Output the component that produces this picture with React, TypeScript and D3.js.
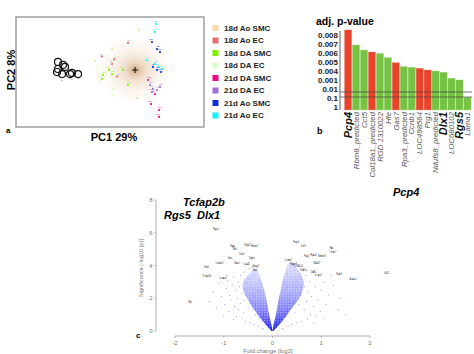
import React from "react";
import * as d3 from "d3";

const W = 474;
const H = 354;

// ---- panel a: PCA ----
const groups = ["18d Ao SMC", "18d Ao EC", "18d DA SMC", "18d DA EC", "21d DA SMC", "21d DA EC", "21d Ao SMC", "21d Ao EC"];
const groupColors = ["#f6dca4", "#e46f6f", "#80f000", "#ddfccc", "#f0088c", "#a070d8", "#1030d8", "#18f0f8"];
// [group index, PC1, PC2]
const pcaPoints = [
  [0, 18.5, 26.7], [0, 1.3, 14.6], [0, 16, 6.4], [0, 17.2, -16.5], [0, -9.6, 7],
  [1, 11.5, 18.5], [1, -5.1, 9.9], [1, 2.6, 8], [1, 1.3, 5.1], [1, 4.5, -2.9],
  [2, -0.6, 1.3], [2, 1.3, -1.3], [2, 8.3, 1.3], [2, -4.5, -1.9], [2, -5.1, -4.5], [2, 11.5, -8.3],
  [3, 1.9, -10.8], [3, 1.3, -15], [3, -8.3, 1.3], [3, -6.4, -6.4],
  [4, 31.3, -28.6], [4, 31.3, -24.2], [4, 26.2, -20.4], [4, 24.3, -5.1], [4, 28.7, -14],
  [5, 25.5, -8.3], [5, 27.4, -10.8], [5, 30, -11.5], [5, 26.8, -12.7], [5, 31.9, -9.5],
  [6, 26.8, 19.1], [6, 30, 14.6], [6, 31.9, 12.7], [6, 30, 1.3], [6, 32.6, 0], [6, 27.4, 3.2],
  [7, 29.4, 30.5], [7, 28.7, 25.5], [7, 30.6, 3.2], [7, 28.7, 5.1], [7, 33.2, 1.9], [7, 23.6, 7.6],
];
const refPoints = [
  [-33.2, 6.4], [-30, 4.5], [-28.7, 3.2], [-33.8, 0], [-30.6, -1.3], [-25.5, -1.3], [-24.3, -0.6], [-20.4, -1.3], [-33.2, 1.9],
];
const centroid = [16, 1.3];

// ---- panel b: adj. p-value bars ----
const genes = ["Pcp4", "Rbm8_predicted", "Cct5", "Col18a1_predicted", "RGD 1310022", "Hfe", "Gas7", "Rpa3_predicted", "Ccnb1", "LOC498564", "Prg1", "Ndufs8_predicted", "Dlx1", "LOC680102", "Rgs5", "Lama1"];
const geneValues = [8.56, 6.89, 6.33, 6.11, 5.94, 5.48, 4.92, 4.48, 4.41, 4.3, 4.11, 4.0, 3.86, 3.19, 3.0, 1.08];
const geneUp = [true, false, false, true, false, false, true, false, false, true, true, false, false, false, false, false];
const boldGenes = ["Pcp4", "Dlx1", "Rgs5"];
const pTickLabels = ["1", "0.1", "0.01", "0.001", "0.004", "0.005", "0.006", "0.007", "0.008"];
const thresholds = [1.67, 1.11];

// ---- panel c: volcano ----
const volcanoTicksX = [-2, -1, 0, 1, 2];
const volcanoTicksY = [0, 2, 4, 6, 8];
// arm envelopes: [significance, outer fold change, inner fold change]
const leftArm = [[0, -0.02, 0], [0.5, -0.17, -0.03], [1, -0.3, -0.07], [1.5, -0.42, -0.1], [2, -0.52, -0.13], [2.5, -0.6, -0.17], [3, -0.6, -0.22], [3.5, -0.48, -0.28], [3.8, -0.38, -0.33]];
const rightArm = [[0, 0.02, 0], [0.5, 0.17, 0.03], [1, 0.3, 0.07], [1.5, 0.42, 0.1], [2, 0.55, 0.13], [2.5, 0.62, 0.17], [3, 0.64, 0.2], [3.5, 0.58, 0.25], [4, 0.45, 0.3], [4.2, 0.38, 0.34]];
const scatter = [
  [-1.22, 2.4], [-1.1, 2.9], [-1.05, 2.1], [-0.98, 1.6], [-0.95, 2.6], [-0.92, 3.1], [-0.9, 1.2], [-0.88, 2.2], [-0.85, 1.9], [-0.83, 2.8],
  [-0.8, 3.3], [-0.78, 1.5], [-0.76, 2.5], [-0.74, 0.9], [-0.72, 2.0], [-0.7, 3.0], [-0.7, 1.3], [-0.68, 2.7], [-0.66, 1.7], [-0.65, 3.4],
  [-0.63, 0.8], [-0.62, 2.3], [-0.6, 1.1], [-0.58, 3.6], [-0.57, 1.9], [-0.55, 0.6], [-0.53, 2.9], [-0.5, 1.4], [-0.48, 3.8], [-0.46, 0.5],
  [-0.44, 3.2], [-0.42, 3.9], [-0.4, 2.6], [-0.38, 0.4], [-0.37, 3.5], [-0.35, 1.0], [-0.33, 3.7], [-0.3, 0.3], [-0.28, 3.1], [-0.25, 2.4],
  [-0.22, 2.9], [-0.2, 0.15], [-1.3, 1.8], [-1.15, 1.4], [-1.0, 0.9], [-0.8, 0.7], [-0.95, 3.4], [-1.05, 3.0],
  [1.25, 2.8], [1.15, 2.2], [1.1, 1.6], [1.05, 3.0], [1.0, 2.5], [0.98, 1.2], [0.95, 3.3], [0.93, 1.9], [0.9, 0.9], [0.88, 2.7],
  [0.85, 1.5], [0.83, 3.6], [0.8, 2.1], [0.78, 1.0], [0.76, 3.0], [0.74, 2.4], [0.72, 0.7], [0.7, 1.8], [0.68, 3.4], [0.66, 2.7],
  [0.65, 1.3], [0.63, 3.8], [0.6, 0.6], [0.58, 2.2], [0.56, 3.5], [0.54, 1.6], [0.52, 4.0], [0.5, 0.5], [0.48, 3.3], [0.46, 1.1],
  [0.44, 4.1], [0.42, 2.9], [0.4, 0.4], [0.38, 3.9], [0.35, 4.3], [0.32, 0.3], [0.3, 3.5], [0.27, 2.6], [0.24, 3.0], [0.2, 0.15],
  [1.35, 1.3], [1.4, 2.0], [1.2, 3.4], [1.05, 0.8], [0.85, 0.5], [1.5, 1.0],
  [-0.55, 2.2], [-0.5, 2.6], [-0.45, 1.7], [-0.4, 1.3], [-0.35, 1.6], [-0.3, 1.1], [-0.28, 0.8], [-0.22, 0.6], [-0.45, 2.9], [-0.5, 3.2],
  [-0.4, 3.4], [-0.58, 2.6], [-0.36, 2.1], [-0.3, 2.5], [-0.26, 2.0], [-0.18, 1.1],
  [0.55, 2.3], [0.5, 2.7], [0.45, 1.8], [0.4, 1.4], [0.35, 1.7], [0.3, 1.2], [0.28, 0.9], [0.22, 0.6], [0.5, 3.1], [0.55, 3.3],
  [0.45, 3.7], [0.6, 2.7], [0.36, 2.2], [0.3, 2.7], [0.26, 2.1], [0.18, 1.2], [0.4, 4.0],
];
const labelled = [
  ["Rgs5", -1.16, 6.2], ["Mgp", -0.82, 5.18], ["Eln", -0.77, 5.0], ["Myh11", -0.5, 5.24], ["Acta2", -0.36, 5.2],
  ["Cnn1", -0.63, 4.7], ["Tagln", -0.43, 4.47], ["Des", -0.87, 4.47], ["Lmod1", -1.09, 4.16], ["Dlx1", -1.35, 3.92],
  ["Smtn", -0.73, 4.12], ["Cald1", -0.53, 4.06], ["Actg2", -0.34, 3.96], ["Vim", -0.36, 3.72], ["Tcfap2b", -1.35, 3.35],
  ["Lama1", -1.01, 3.21], ["Pln", -1.69, 1.73], ["Pcp4", 0.48, 5.45], ["Cct5", 0.63, 5.2], ["Hfe", 1.21, 5.04],
  ["Gas7", 1.25, 4.84], ["Ccnb1", 0.32, 4.33], ["Prg1", 0.7, 4.57], ["Rpa3", 0.84, 4.63], ["Ndufs8", 1.01, 4.59],
  ["Rbm8", 0.43, 4.08], ["Col18a1", 0.53, 3.96], ["Top2a", 0.63, 3.72], ["Mki67", 0.91, 4.12], ["Cdk1", 0.84, 3.62],
  ["Ccna2", 0.94, 3.41], ["Bub1", 1.37, 3.48], ["Aurka", 1.65, 3.15], ["Kif11", 2.34, 3.52],
];

const sans = "'Liberation Sans', Arial, sans-serif";

function PanelA() {
  const x = d3.scaleLinear().domain([-60, 60]).range([16, 204]);
  const y = d3.scaleLinear().domain([-35, 35]).range([127, 17]);
  const [cx, cy] = [x(centroid[0]), y(centroid[1])];
  return (
    <g fontFamily={sans}>
      <defs>
        <radialGradient id="glow">
          <stop offset="0%" stopColor="#c89060" stopOpacity={0.75} />
          <stop offset="25%" stopColor="#e0b890" stopOpacity={0.45} />
          <stop offset="60%" stopColor="#f0dcc4" stopOpacity={0.25} />
          <stop offset="100%" stopColor="#ffffff" stopOpacity={0} />
        </radialGradient>
      </defs>
      <rect x={16} y={17} width={188} height={110} fill="#fff" stroke="#999" strokeWidth={1.4} />
      <ellipse cx={cx} cy={cy} rx={44} ry={38} fill="url(#glow)" />
      {pcaPoints.map(([g, a, b], i) => (
        <g key={i}>
          <text x={x(a) + (i % 2 ? 1 : -1)} y={y(b) - 1.8} fontSize={2.2} textAnchor="middle" fill={groupColors[g]}>{`s${i}`}</text>
          <circle cx={x(a)} cy={y(b)} r={1.1} fill={groupColors[g]} />
        </g>
      ))}
      {refPoints.map(([a, b], i) => (
        <g key={i}>
          <circle cx={x(a)} cy={y(b)} r={3.5} fill="none" stroke="#111" strokeWidth={1.2} />
          <text x={x(a)} y={y(b) + (i % 2 ? 5.2 : 7.2)} fontSize={2.2} textAnchor="middle" fill="#555">{`r${i + 1}`}</text>
        </g>
      ))}
      <path d={`M${cx - 3},${cy}H${cx + 3}M${cx},${cy - 3}V${cy + 3}`} stroke="#111" strokeWidth={1.1} />
      <text transform="translate(15,70) rotate(-90)" textAnchor="middle" fontSize={11} fontWeight="bold">PC2 8%</text>
      <text x={114} y={141} textAnchor="middle" fontSize={11} fontWeight="bold">PC1 29%</text>
      <text x={6} y={133} fontSize={8} fontWeight="bold">a</text>
      {groups.map((gname, i) => (
        <g key={gname} transform={`translate(212.5,${25 + i * 12.5})`}>
          <rect width={6} height={6} fill={groupColors[i]} />
          <text x={11.5} y={5.8} fontSize={8} fontWeight="bold" fill="#222">{gname}</text>
        </g>
      ))}
    </g>
  );
}

function PanelB() {
  const x = d3.scaleBand<string>().domain(genes).range([344.5, 471]).paddingInner(0.1);
  const y = d3.scaleLinear().domain([0, 8]).range([107, 35]);
  const base = y(-0.33);
  return (
    <g fontFamily={sans}>
      <text x={316} y={25} fontSize={10.5} fontWeight="bold">adj. p-value</text>
      {pTickLabels.map((t, i) => (
        <text key={t} x={338} y={y(i) + 2.8} fontSize={8} fontWeight="bold" textAnchor="end" fill="#222">{t}</text>
      ))}
      {genes.map((gname, i) => (
        <rect key={gname} x={x(gname)} y={y(geneValues[i])} width={x.bandwidth()} height={base - y(geneValues[i])}
          fill={geneUp[i] ? "#e8442c" : "#76c244"} stroke={geneUp[i] ? "#f08070" : "#9ad876"} strokeWidth={0.4} />
      ))}
      <line x1={340} x2={340} y1={31} y2={base} stroke="#333" strokeWidth={0.8} />
      {thresholds.map((t) => (
        <line key={t} x1={340} x2={472} y1={y(t)} y2={y(t)} stroke="#444" strokeWidth={0.7} />
      ))}
      {genes.map((gname) => {
        const bold = boldGenes.includes(gname);
        return (
          <text key={gname} transform={`translate(${(x(gname) ?? 0) + x.bandwidth() / 2},${base + 2}) rotate(-90)`}
            textAnchor="end" dy="0.35em" fontStyle="italic" fontWeight={bold ? "bold" : "normal"}
            fontSize={bold ? 11 : 7.8} fill={bold ? "#111" : "#555"}>{gname}</text>
        );
      })}
      <text x={317} y={134} fontSize={9} fontWeight="bold">b</text>
      <text x={393} y={196} fontSize={11} fontWeight="bold" fontStyle="italic">Pcp4</text>
    </g>
  );
}

function PanelC() {
  const x = d3.scaleLinear().domain([-2, 2]).range([175, 370]);
  const y = d3.scaleLinear().domain([0, 8]).range([331, 200]);
  const arm = d3.area<number[]>().y((d) => y(d[0])).x0((d) => x(d[1])).x1((d) => x(d[2])).curve(d3.curveCatmullRom);
  return (
    <g fontFamily={sans}>
      <defs>
        <linearGradient id="vgrad" x1="0" y1="1" x2="0" y2="0">
          <stop offset="0%" stopColor="#0000e0" stopOpacity={0.95} />
          <stop offset="30%" stopColor="#3333f0" stopOpacity={0.65} />
          <stop offset="100%" stopColor="#9090ff" stopOpacity={0.3} />
        </linearGradient>
        <pattern id="speck" width={1.6} height={1.6} patternUnits="userSpaceOnUse">
          <rect width={0.8} height={0.8} fill="#fff" opacity={0.45} />
        </pattern>
        <filter id="soft"><feGaussianBlur stdDeviation={0.6} /></filter>
      </defs>
      {scatter.map(([a, b], i) => (
        <circle key={i} cx={x(a)} cy={y(b)} r={0.5} fill="#5555ee" opacity={0.75} />
      ))}
      <g filter="url(#soft)">
        <path d={arm(leftArm) ?? ""} fill="url(#vgrad)" />
        <path d={arm(rightArm) ?? ""} fill="url(#vgrad)" />
      </g>
      <path d={arm(leftArm) ?? ""} fill="url(#speck)" />
      <path d={arm(rightArm) ?? ""} fill="url(#speck)" />
      {labelled.map(([name, a, b]) => (
        <g key={name as string}>
          <circle cx={x(a as number)} cy={y(b as number)} r={0.5} fill="#333" />
          <text x={x(a as number)} y={y(b as number)} dy="0.3em" fontSize={2.6} textAnchor="middle" fill="#444">{name}</text>
        </g>
      ))}
      <line x1={156} x2={156} y1={y(8)} y2={y(0)} stroke="#999" strokeWidth={0.8} />
      {volcanoTicksY.map((t) => (
        <g key={t}>
          <line x1={154} x2={156} y1={y(t)} y2={y(t)} stroke="#999" strokeWidth={0.6} />
          <text x={152.5} y={y(t) + 2} fontSize={6} textAnchor="end" fill="#777">{t}</text>
        </g>
      ))}
      <line x1={x(-2)} x2={x(2)} y1={336} y2={336} stroke="#999" strokeWidth={0.8} />
      {volcanoTicksX.map((t) => (
        <g key={t}>
          <line x1={x(t)} x2={x(t)} y1={336} y2={338} stroke="#999" strokeWidth={0.6} />
          <text x={x(t)} y={345} fontSize={6} textAnchor="middle" fill="#777">{t}</text>
        </g>
      ))}
      <text x={268} y={353} fontSize={6} textAnchor="middle" fill="#777">Fold change [log2]</text>
      <text transform="translate(143,268) rotate(-90)" fontSize={5.5} textAnchor="middle" fill="#777">Significance [-log10 (p)]</text>
      <text x={183} y={206} fontSize={11} fontWeight="bold" fontStyle="italic">Tcfap2b</text>
      <text x={164} y={219} fontSize={11} fontWeight="bold" fontStyle="italic">Rgs5</text>
      <text x={197} y={219} fontSize={11} fontWeight="bold" fontStyle="italic">Dlx1</text>
      <text x={136} y={338} fontSize={8} fontWeight="bold">c</text>
    </g>
  );
}

export default function App() {
  return (
    <svg width={W} height={H} style={{ position: "absolute", left: 0, top: 0, background: "#fff" }}>
      <rect width={W} height={H} fill="#fff" />
      <PanelA />
      <PanelB />
      <PanelC />
    </svg>
  );
}
